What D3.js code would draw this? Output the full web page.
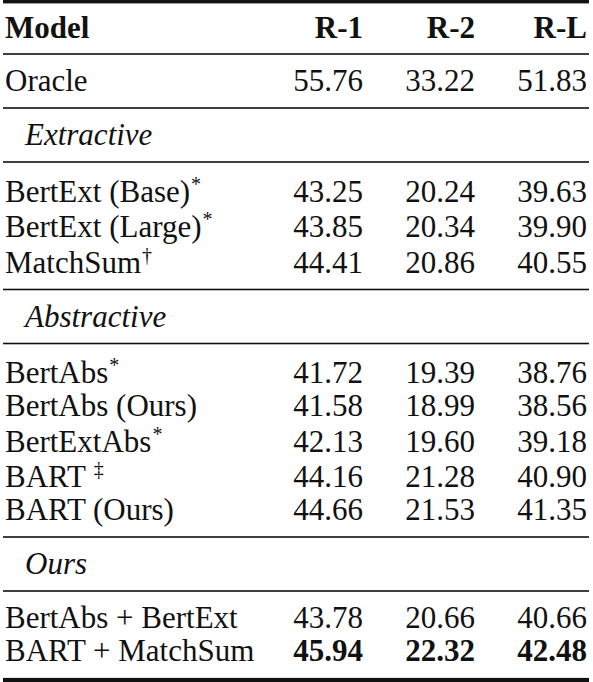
<!DOCTYPE html>
<html>
<head>
<meta charset="utf-8">
<script src="https://cdn.jsdelivr.net/npm/d3@7"></script>
<style>
  html, body { margin: 0; padding: 0; background: #fff; }
  svg { display: block; }
  text { font-family: "Liberation Serif", "Times New Roman", serif; fill: #111; }
</style>
</head>
<body>
<script>
// ---- data ----
const headers = ["Model", "R-1", "R-2", "R-L"];
const sections = ["Extractive", "Abstractive", "Ours"];
const models = ["Oracle", "BertExt (Base)", "BertExt (Large)", "MatchSum",
  "BertAbs", "BertAbs (Ours)", "BertExtAbs", "BART", "BART (Ours)",
  "BertAbs + BertExt", "BART + MatchSum"];
const marks = ["", "*", "*", "\u2020", "*", "", "*", "\u2021", "", "", ""];
const rowSection = [null, "Extractive", "Extractive", "Extractive",
  "Abstractive", "Abstractive", "Abstractive", "Abstractive", "Abstractive",
  "Ours", "Ours"];
const r1 = [55.76, 43.25, 43.85, 44.41, 41.72, 41.58, 42.13, 44.16, 44.66, 43.78, 45.94];
const r2 = [33.22, 20.24, 20.34, 20.86, 19.39, 18.99, 19.60, 21.28, 21.53, 20.66, 22.32];
const rl = [51.83, 39.63, 39.90, 40.55, 38.76, 38.56, 39.18, 40.90, 41.35, 40.66, 42.48];
const best = [false, false, false, false, false, false, false, false, false, false, true];

// ---- layout ----
const W = 593, H = 682;
const FS = 31, SUPFS = 20;
const svg = d3.select("body").append("svg").attr("width", W).attr("height", H);

const colRight = d3.scaleOrdinal().domain(["R-1", "R-2", "R-L"]).range([363, 475, 587]);
const fmt = d3.format(".2f");

// blocks: a run of rows that share a section (or no section)
const blocks = [];
models.forEach((m, i) => {
  const s = rowSection[i];
  const last = blocks[blocks.length - 1];
  if (last && last.section === s) last.rows.push(i);
  else blocks.push({ section: s, rows: [i] });
});

const rules = [];
const rowBase = [];
const labelBase = [];
let r = 54; // first midrule
rules.push({ y: r, h: 1.6 });
blocks.forEach(b => {
  if (b.section) {
    labelBase.push({ name: b.section, y: r + 37 });
    r = r + 54;
    rules.push({ y: r, h: 1.6 });
  }
  let cur = r + 4;
  b.rows.forEach(i => {
    const extra = marks[i] ? 2.5 : 0;
    rowBase[i] = cur + extra + 33;
    cur += 33 + extra;
  });
  r = cur + 17;
  rules.push({ y: r, h: 1.6 });
});
// last rule becomes bottom heavy rule
rules[rules.length - 1] = { y: r + 2, h: 4.2 };

// top heavy rule
svg.append("rect").attr("x", 3).attr("y", 0).attr("width", 586).attr("height", 3.4).attr("fill", "#111");
svg.selectAll("rect.rule").data(rules).join("rect").attr("class", "rule")
  .attr("x", 3).attr("width", 586)
  .attr("y", d => d.y - d.h / 2).attr("height", d => d.h)
  .attr("fill", "#111");

// header
svg.append("text").attr("x", 5).attr("y", 38).attr("font-size", FS)
  .attr("font-weight", "bold").text(headers[0]);
svg.selectAll("text.hdr").data(headers.slice(1)).join("text").attr("class", "hdr")
  .attr("x", d => colRight(d)).attr("y", 38).attr("font-size", FS)
  .attr("font-weight", "bold").attr("text-anchor", "end").text(d => d);

// section labels
svg.selectAll("text.sec").data(labelBase).join("text").attr("class", "sec")
  .attr("x", 25).attr("y", d => d.y).attr("font-size", FS)
  .attr("font-style", "italic").text(d => d.name);

// model names
const names = svg.selectAll("text.model").data(models).join("text").attr("class", "model")
  .attr("x", 5).attr("y", (d, i) => rowBase[i]).attr("font-size", FS);
names.append("tspan").text(d => d);
names.filter((d, i) => marks[i]).append("tspan")
  .attr("font-size", SUPFS)
  .attr("dx", (d, i, n) => 0)
  .attr("dy", -11)
  .text(function(d) { const i = models.indexOf(d); return marks[i]; })
  .attr("dx", function(d) { return marks[models.indexOf(d)] === "\u2021" ? 8 : 1; });

// values
const cols = [["R-1", r1], ["R-2", r2], ["R-L", rl]];
cols.forEach(([key, vals]) => {
  svg.selectAll("text.v" + key).data(vals).join("text").attr("class", "v" + key)
    .attr("x", colRight(key)).attr("y", (d, i) => rowBase[i])
    .attr("font-size", FS).attr("text-anchor", "end")
    .attr("font-weight", (d, i) => best[i] ? "bold" : null)
    .text(d => fmt(d));
});
</script>
</body>
</html>
